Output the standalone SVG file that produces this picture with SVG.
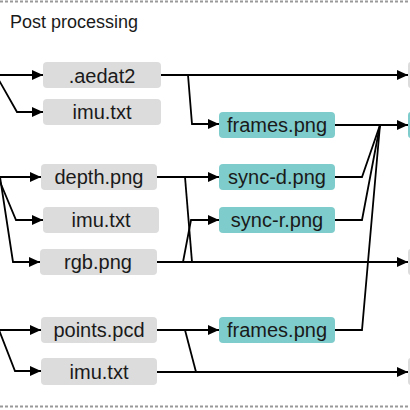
<svg xmlns="http://www.w3.org/2000/svg" width="410" height="410" viewBox="0 0 410 410">
<defs>
<style>
.g{fill:#dcdcdc}
.t{fill:#7fcccc}
.lbl{font-family:"Liberation Sans",Arial,sans-serif;font-size:20px;fill:#1a1a1a;text-anchor:middle}
.c{fill:none;stroke:#000;stroke-width:1.8}
.a{marker-end:url(#ah)}
</style>
<marker id="ah" markerUnits="userSpaceOnUse" markerWidth="11" markerHeight="10" refX="11" refY="5" orient="auto">
<path d="M0,0 L11,5 L0,10 z" fill="#000"/>
</marker>
</defs>
<rect width="410" height="410" fill="#fff"/>
<line x1="0" y1="1.5" x2="410" y2="1.5" stroke="#999" stroke-width="2" stroke-dasharray="3 2"/>
<line x1="0" y1="406.5" x2="410" y2="406.5" stroke="#999" stroke-width="2" stroke-dasharray="3 2"/>
<text x="10" y="28" font-family="Liberation Sans, Arial, sans-serif" font-size="18" fill="#1a1a1a">Post processing</text>

<g id="connectors">
<path class="c a" d="M0,75 H43"/>
<path class="c a" d="M-4,75 L17,112 H43"/>
<path class="c a" d="M0,177 H41"/>
<path class="c a" d="M-2,177 L16,220 H43"/>
<path class="c a" d="M0,177 L13,262 H40"/>
<path class="c a" d="M0,330 H41"/>
<path class="c a" d="M-1,330 L15,371 H41"/>
<path class="c a" d="M161,75 H408"/>
<path class="c a" d="M188,75 L192,124 H219"/>
<path class="c a" d="M335,125 H408"/>
<path class="c a" d="M157,177 H219"/>
<path class="c" d="M185,177 L192,262"/>
<path class="c a" d="M157,262 H408"/>
<path class="c a" d="M183,262 L191,220 H219"/>
<path class="c" d="M335,177 H362 L380,125"/>
<path class="c" d="M335,220 H362 L380,125"/>
<path class="c" d="M335,330 H362 L380,125"/>
<path class="c a" d="M157,330 H219"/>
<path class="c" d="M185,330 L196,372"/>
<path class="c a" d="M157,372 H408"/>
</g>

<g id="n-aedat2"><rect class="g" x="43" y="62" width="118" height="26" rx="4"/><text class="lbl" x="102" y="83">.aedat2</text></g>
<g id="n-imu1"><rect class="g" x="43" y="99" width="118" height="26" rx="4"/><text class="lbl" x="102" y="119">imu.txt</text></g>
<g id="n-depth"><rect class="g" x="41" y="164" width="116" height="26" rx="4"/><text class="lbl" x="99" y="184">depth.png</text></g>
<g id="n-imu2"><rect class="g" x="43" y="207" width="116" height="26" rx="4"/><text class="lbl" x="101" y="227">imu.txt</text></g>
<g id="n-rgb"><rect class="g" x="40" y="249" width="117" height="26" rx="4"/><text class="lbl" x="98" y="269">rgb.png</text></g>
<g id="n-points"><rect class="g" x="41" y="317" width="116" height="26" rx="4"/><text class="lbl" x="99" y="337">points.pcd</text></g>
<g id="n-imu3"><rect class="g" x="41" y="358" width="116" height="27" rx="4"/><text class="lbl" x="99" y="379">imu.txt</text></g>

<g id="n-frames1"><rect class="t" x="219" y="112" width="116" height="26" rx="4"/><text class="lbl" x="277" y="132">frames.png</text></g>
<g id="n-syncd"><rect class="t" x="219" y="164" width="116" height="26" rx="4"/><text class="lbl" x="277" y="184">sync-d.png</text></g>
<g id="n-syncr"><rect class="t" x="219" y="207" width="116" height="26" rx="4"/><text class="lbl" x="277" y="227">sync-r.png</text></g>
<g id="n-frames2"><rect class="t" x="219" y="317" width="116" height="26" rx="4"/><text class="lbl" x="277" y="337">frames.png</text></g>

<g id="n-out1"><rect class="g" x="408" y="62" width="40" height="26" rx="3"/></g>
<g id="n-out2"><rect class="t" x="408" y="112" width="40" height="26" rx="3"/></g>
<g id="n-out3"><rect class="g" x="408" y="249" width="40" height="26" rx="3"/></g>
<g id="n-out4"><rect class="g" x="408" y="358" width="40" height="27" rx="3"/></g>
</svg>
